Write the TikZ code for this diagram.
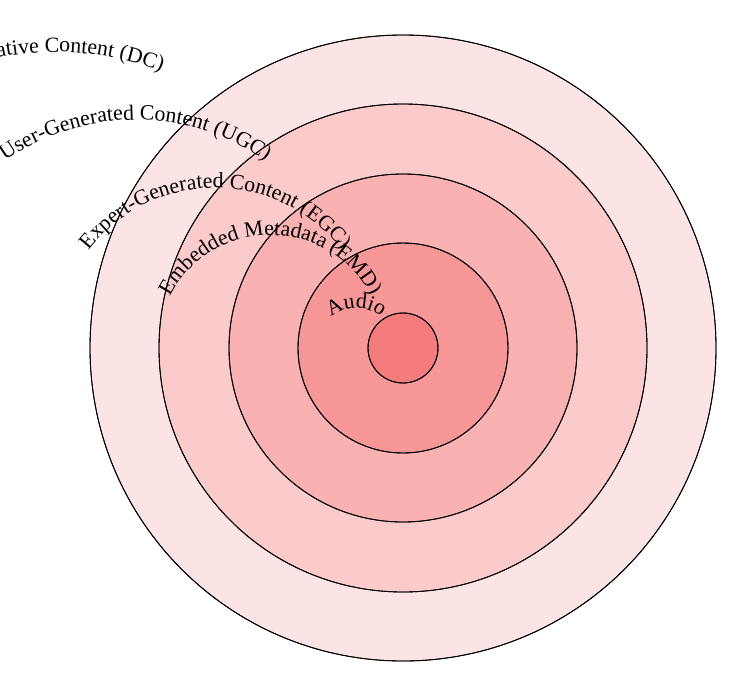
\documentclass[tikz,border=0pt]{standalone}
\usepackage{fontspec}
\setmainfont{Liberation Serif}
\usetikzlibrary{decorations.text}
\definecolor{c1}{HTML}{FDE4E4}
\definecolor{c2}{HTML}{FBCBCB}
\definecolor{c3}{HTML}{F9B1B1}
\definecolor{c4}{HTML}{F79797}
\definecolor{c5}{HTML}{F57C7C}
\tikzset{ring/.style={draw=black,line width=0.4pt},
  lbl/.style={decorate,decoration={text along path,text align=center,
   text={#1}}}}
\begin{document}
\begin{tikzpicture}[x=0.46pt,y=0.46pt]
\useasboundingbox (0,0) rectangle (752,686);
\coordinate (c) at (403,338);
\fill[ring,fill=c1] (c) circle (313);
\fill[ring,fill=c2] (c) circle (244);
\fill[ring,fill=c3] (c) circle (174);
\fill[ring,fill=c4] (c) circle (105);
\fill[ring,fill=c5] (c) circle (35);
\draw[ring] (c) circle (313) (c) circle (244) (c) circle (174) (c) circle (105) (c) circle (35);
\path[lbl={Derivative Content (DC)}] ([xshift=-296]c) arc[start angle=180,end angle=0,radius=296];
\path[lbl={User-Generated Content (UGC)}] ([xshift=-228]c) arc[start angle=180,end angle=0,radius=228];
\path[lbl={Expert-Generated Content (EGC)}] ([xshift=-160]c) arc[start angle=180,end angle=0,radius=160];
\path[lbl={Embedded Metadata (EMD)}] ([xshift=-113]c) arc[start angle=180,end angle=0,radius=113];
\path[lbl={Audio}] ([xshift=-40]c) arc[start angle=180,end angle=0,radius=40];
\end{tikzpicture}
\end{document}
